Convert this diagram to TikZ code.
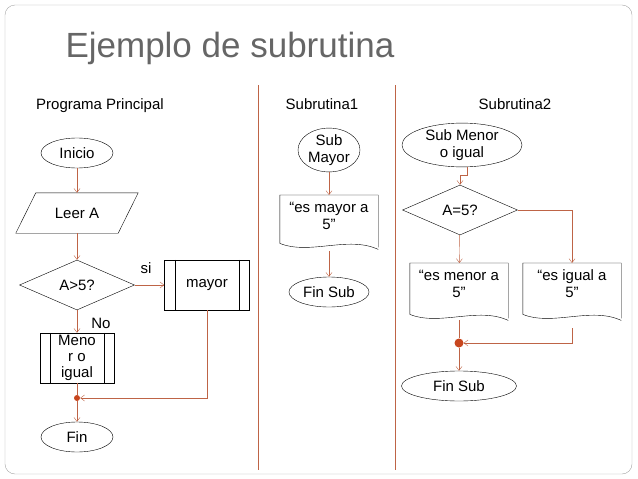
\documentclass[tikz,border=0pt]{standalone}
\usepackage{fontspec}
\setmainfont{Liberation Sans}
\usetikzlibrary{shapes.geometric,arrows.meta}
\definecolor{brn}{RGB}{190,100,70}
\definecolor{dotc}{RGB}{200,70,30}
\begin{document}
\begin{tikzpicture}[x=1pt,y=-1pt,font=\fontsize{15}{17}\selectfont,
  ell/.style={draw,ellipse,inner sep=0pt,align=center},
  box/.style={draw,rectangle,inner sep=0pt,align=center},
  plain/.style={inner sep=0pt,align=center},
  arr/.style={draw=brn,-{Straight Barb[length=4pt,width=6pt]}},
  ln/.style={draw=brn},
  dot/.style={circle,fill=dotc,inner sep=0pt,minimum size=6pt}]
\useasboundingbox (0,0) rectangle (638,479);
\draw[gray!70,rounded corners=10pt] (5,5) rectangle (632,474);
\node[anchor=west,text=black!60,font=\fontsize{35}{40}\selectfont] (title) at (62,48) {Ejemplo de subrutina};
\draw[brn] (258,85) -- (258,470);
\draw[brn] (395,85) -- (395,470);
% left
\node (lp) at (100,106) {Programa Principal};
\node[ell,minimum width=72pt,minimum height=30pt] (ini) at (77,153) {Inicio};
\node[plain,minimum width=102pt,minimum height=40pt] (leer) at (77,213) {Leer A};
\draw ([xshift=-10pt]leer.south west) -- ([xshift=10pt]leer.north west) -- ([xshift=10pt]leer.north east) -- ([xshift=-10pt]leer.south east) -- cycle;
\node[diamond,draw,aspect=2.3,minimum width=115pt,minimum height=50pt,inner sep=0pt] (q) at (77,285) {A>5?};
\node[box,minimum width=85pt,minimum height=50pt] (may) at (207,285) {mayor};
\draw (may.north west)++(11,0) -- ++(0,50);
\draw (may.north east)++(-11,0) -- ++(0,50);
\node[box,minimum width=74pt,minimum height=50pt,font=\fontsize{15}{16}\selectfont] (men) at (77,358) {Meno\\r o\\igual};
\draw (men.north west)++(10,0) -- ++(0,50);
\draw (men.north east)++(-10,0) -- ++(0,50);
\node (si) at (146,268) {si};
\node (no) at (101,323) {No};
\node[dot] (d1) at (77,398) {};
\node[ell,minimum width=72pt,minimum height=30pt] (fin) at (77,437) {Fin};
\draw[arr] (ini) -- (leer);
\draw[arr] (leer) -- (q);
\draw[arr] (q) -- (may);
\draw[arr] (q) -- (men);
\draw[ln] (men) -- (d1);
\draw[arr] (may.south) |- (d1);
\draw[arr] (d1) -- (fin);
% middle
\node (s1) at (322,104) {Subrutina1};
\node[ell,minimum width=62pt,minimum height=40pt] (sm) at (329,150) {Sub\\Mayor};
\node[plain,minimum width=98pt,minimum height=52pt,anchor=north] (dm) at (329,195) {};
\node[plain] (dmt) at (329,216) {“es mayor a\\5”};
\draw (dm.south east) -- (dm.north east) -- (dm.north west) -- ([yshift=4pt]dm.south west) .. controls +(30,12) and +(-30,-14) .. ([yshift=-2pt]dm.south east);
\node[ell,minimum width=80pt,minimum height=30pt] (fs1) at (329,292) {Fin Sub};
\draw[arr] (sm) -- (dm);
\draw[arr] ([yshift=-4pt]dm.south) -- (fs1);
% right
\node (s2) at (515,104) {Subrutina2};
\node[ell,minimum width=120pt,minimum height=40pt] (smi) at (462,145) {Sub Menor\\o igual};
\node[diamond,draw,aspect=2.3,minimum width=115pt,minimum height=50pt,inner sep=0pt] (q2) at (460,210) {A=5?};
\node[plain,minimum width=98pt,minimum height=55pt,anchor=north] (dl) at (459,263) {};
\node[plain] (dlt) at (459,284) {“es menor a\\5”};
\draw (dl.south east) -- (dl.north east) -- (dl.north west) -- ([yshift=4pt]dl.south west) .. controls +(30,12) and +(-30,-14) .. ([yshift=-2pt]dl.south east);
\node[plain,minimum width=98pt,minimum height=55pt,anchor=north] (dr) at (572,263) {};
\node[plain] (drt) at (572,284) {“es igual a\\5”};
\draw (dr.south east) -- (dr.north east) -- (dr.north west) -- ([yshift=4pt]dr.south west) .. controls +(30,12) and +(-30,-14) .. ([yshift=-2pt]dr.south east);
\node[dot,minimum size=9pt] (d2) at (459,343) {};
\node[ell,minimum width=115pt,minimum height=30pt] (fs2) at (459,386) {Fin Sub};
\draw[arr] ([xshift=5pt]smi.south) |- ++(-7,8) -- (q2.north);
\draw[arr] (q2) -- (dl);
\draw[arr] (q2.east) -| (dr.north);
\draw[ln] ([yshift=-2pt]dl.south) -- (d2);
\draw[arr] ([yshift=-10pt]dr.south) |- (d2);
\draw[arr] (d2) -- (fs2);
\end{tikzpicture}
\end{document}
